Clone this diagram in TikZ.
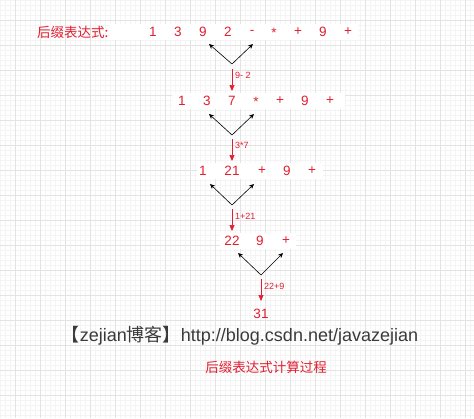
\documentclass[tikz,border=0pt]{standalone}
\usepackage{fontspec}
\setmainfont{Liberation Sans}
\newfontfamily\cjk{Noto Sans CJK SC}
\usetikzlibrary{arrows.meta}
\definecolor{tokred}{RGB}{226,30,48}
\definecolor{txtgray}{RGB}{58,58,58}
\tikzset{
  tok/.style={text=tokred, font=\fontsize{13.5}{14}\selectfont, inner sep=0pt, anchor=center},
  lbl/.style={text=tokred, font=\fontsize{9}{10}\selectfont, inner sep=0pt, anchor=west},
  vline/.style={draw=black, line width=0.6pt, -{Stealth[length=5pt,width=4.5pt]}},
  redarrow/.style={draw=tokred, line width=0.7pt, -{Triangle[length=6pt,width=5pt]}},
  wbox/.style={fill=white, draw=none}
}
\begin{document}
\begin{tikzpicture}[x=1pt,y=-1pt]
\useasboundingbox (0,0) rectangle (474,418);
\fill[white] (0,0) rectangle (474,418);
% grid
\foreach \x in {0,5,...,474} \draw[gray!9, line width=0.4pt] (\x,0) -- (\x,418);
\foreach \y in {0,5,...,418} \draw[gray!9, line width=0.4pt] (0,\y) -- (474,\y);
\foreach \x in {15,40,...,474} \draw[gray!22, line width=0.5pt] (\x,0) -- (\x,418);
\foreach \y in {20,45,...,418} \draw[gray!22, line width=0.5pt] (0,\y) -- (474,\y);

% row 1
\node[text=tokred, font=\cjk\fontsize{13.5}{14}\selectfont, inner sep=0pt, anchor=west] (title) at (37,32) {后缀表达式:};
\fill[wbox] (110,24) rectangle (358,40);
\node[tok] (a1) at (153,32) {1};
\node[tok] (a2) at (178,32) {3};
\node[tok] (a3) at (203,32) {9};
\node[tok] (a4) at (228,32) {2};
\node[tok] (a5) at (252,32) {-};
\node[tok] (a6) at (274,33) {*};
\node[tok] (a7) at (298,32) {+};
\node[tok] (a8) at (323,32) {9};
\node[tok] (a9) at (348,32) {+};

\coordinate (v1) at (232,64);
\coordinate (t1l) at (209,44);
\coordinate (t1r) at (253,44);
\draw[vline] (v1) -- (t1l);
\draw[vline] (v1) -- (t1r);
\coordinate (r1s) at (232,69);
\coordinate (r1e) at (232,91);
\draw[redarrow] (r1s) -- (r1e);
\node[lbl] (l1) at (235,75) {9- 2};

% row 2
\fill[wbox] (172,93) rectangle (345,109);
\node[tok] (b1) at (182,101) {1};
\node[tok] (b2) at (207,101) {3};
\node[tok] (b3) at (232,101) {7};
\node[tok] (b4) at (256,102) {*};
\node[tok] (b5) at (280,101) {+};
\node[tok] (b6) at (305,101) {9};
\node[tok] (b7) at (330,101) {+};

\coordinate (v2) at (232,135);
\coordinate (t2l) at (209,114);
\coordinate (t2r) at (254,114);
\draw[vline] (v2) -- (t2l);
\draw[vline] (v2) -- (t2r);
\coordinate (r2s) at (232,139);
\coordinate (r2e) at (232,161);
\draw[redarrow] (r2s) -- (r2e);
\node[lbl] (l2) at (235,145) {3*7};

% row 3
\fill[wbox] (197,163) rectangle (323,179);
\node[tok] (c1) at (203,171) {1};
\node[tok] (c2) at (232,171) {21};
\node[tok] (c3) at (262,171) {+};
\node[tok] (c4) at (287,171) {9};
\node[tok] (c5) at (312,171) {+};

\coordinate (v3) at (232,205);
\coordinate (t3l) at (210,184);
\coordinate (t3r) at (254,184);
\draw[vline] (v3) -- (t3l);
\draw[vline] (v3) -- (t3r);
\coordinate (r3s) at (232,209);
\coordinate (r3e) at (232,231);
\draw[redarrow] (r3s) -- (r3e);
\node[lbl] (l3) at (235,216) {1+21};

% row 4
\fill[wbox] (220,233) rectangle (296,249);
\node[tok] (d1) at (232,241) {22};
\node[tok] (d2) at (260,241) {9};
\node[tok] (d3) at (286,241) {+};

\coordinate (v4) at (261,275);
\coordinate (t4l) at (238,253);
\coordinate (t4r) at (283,253);
\draw[vline] (v4) -- (t4l);
\draw[vline] (v4) -- (t4r);
\coordinate (r4s) at (261,279);
\coordinate (r4e) at (261,301);
\draw[redarrow] (r4s) -- (r4e);
\node[lbl] (l4) at (264,286) {22+9};

% result
\node[tok] (e1) at (261,314) {31};

% footer
\node[text=txtgray, font=\fontsize{18}{20}\selectfont, inner sep=0pt] (blog) at (240,336) {{\cjk 【}zejian{\cjk 博客】}http://blog.csdn.net/javazejian};
\node[text=tokred, font=\cjk\fontsize{13.5}{14}\selectfont, inner sep=0pt] (cap) at (266,367) {后缀表达式计算过程};
\end{tikzpicture}
\end{document}
